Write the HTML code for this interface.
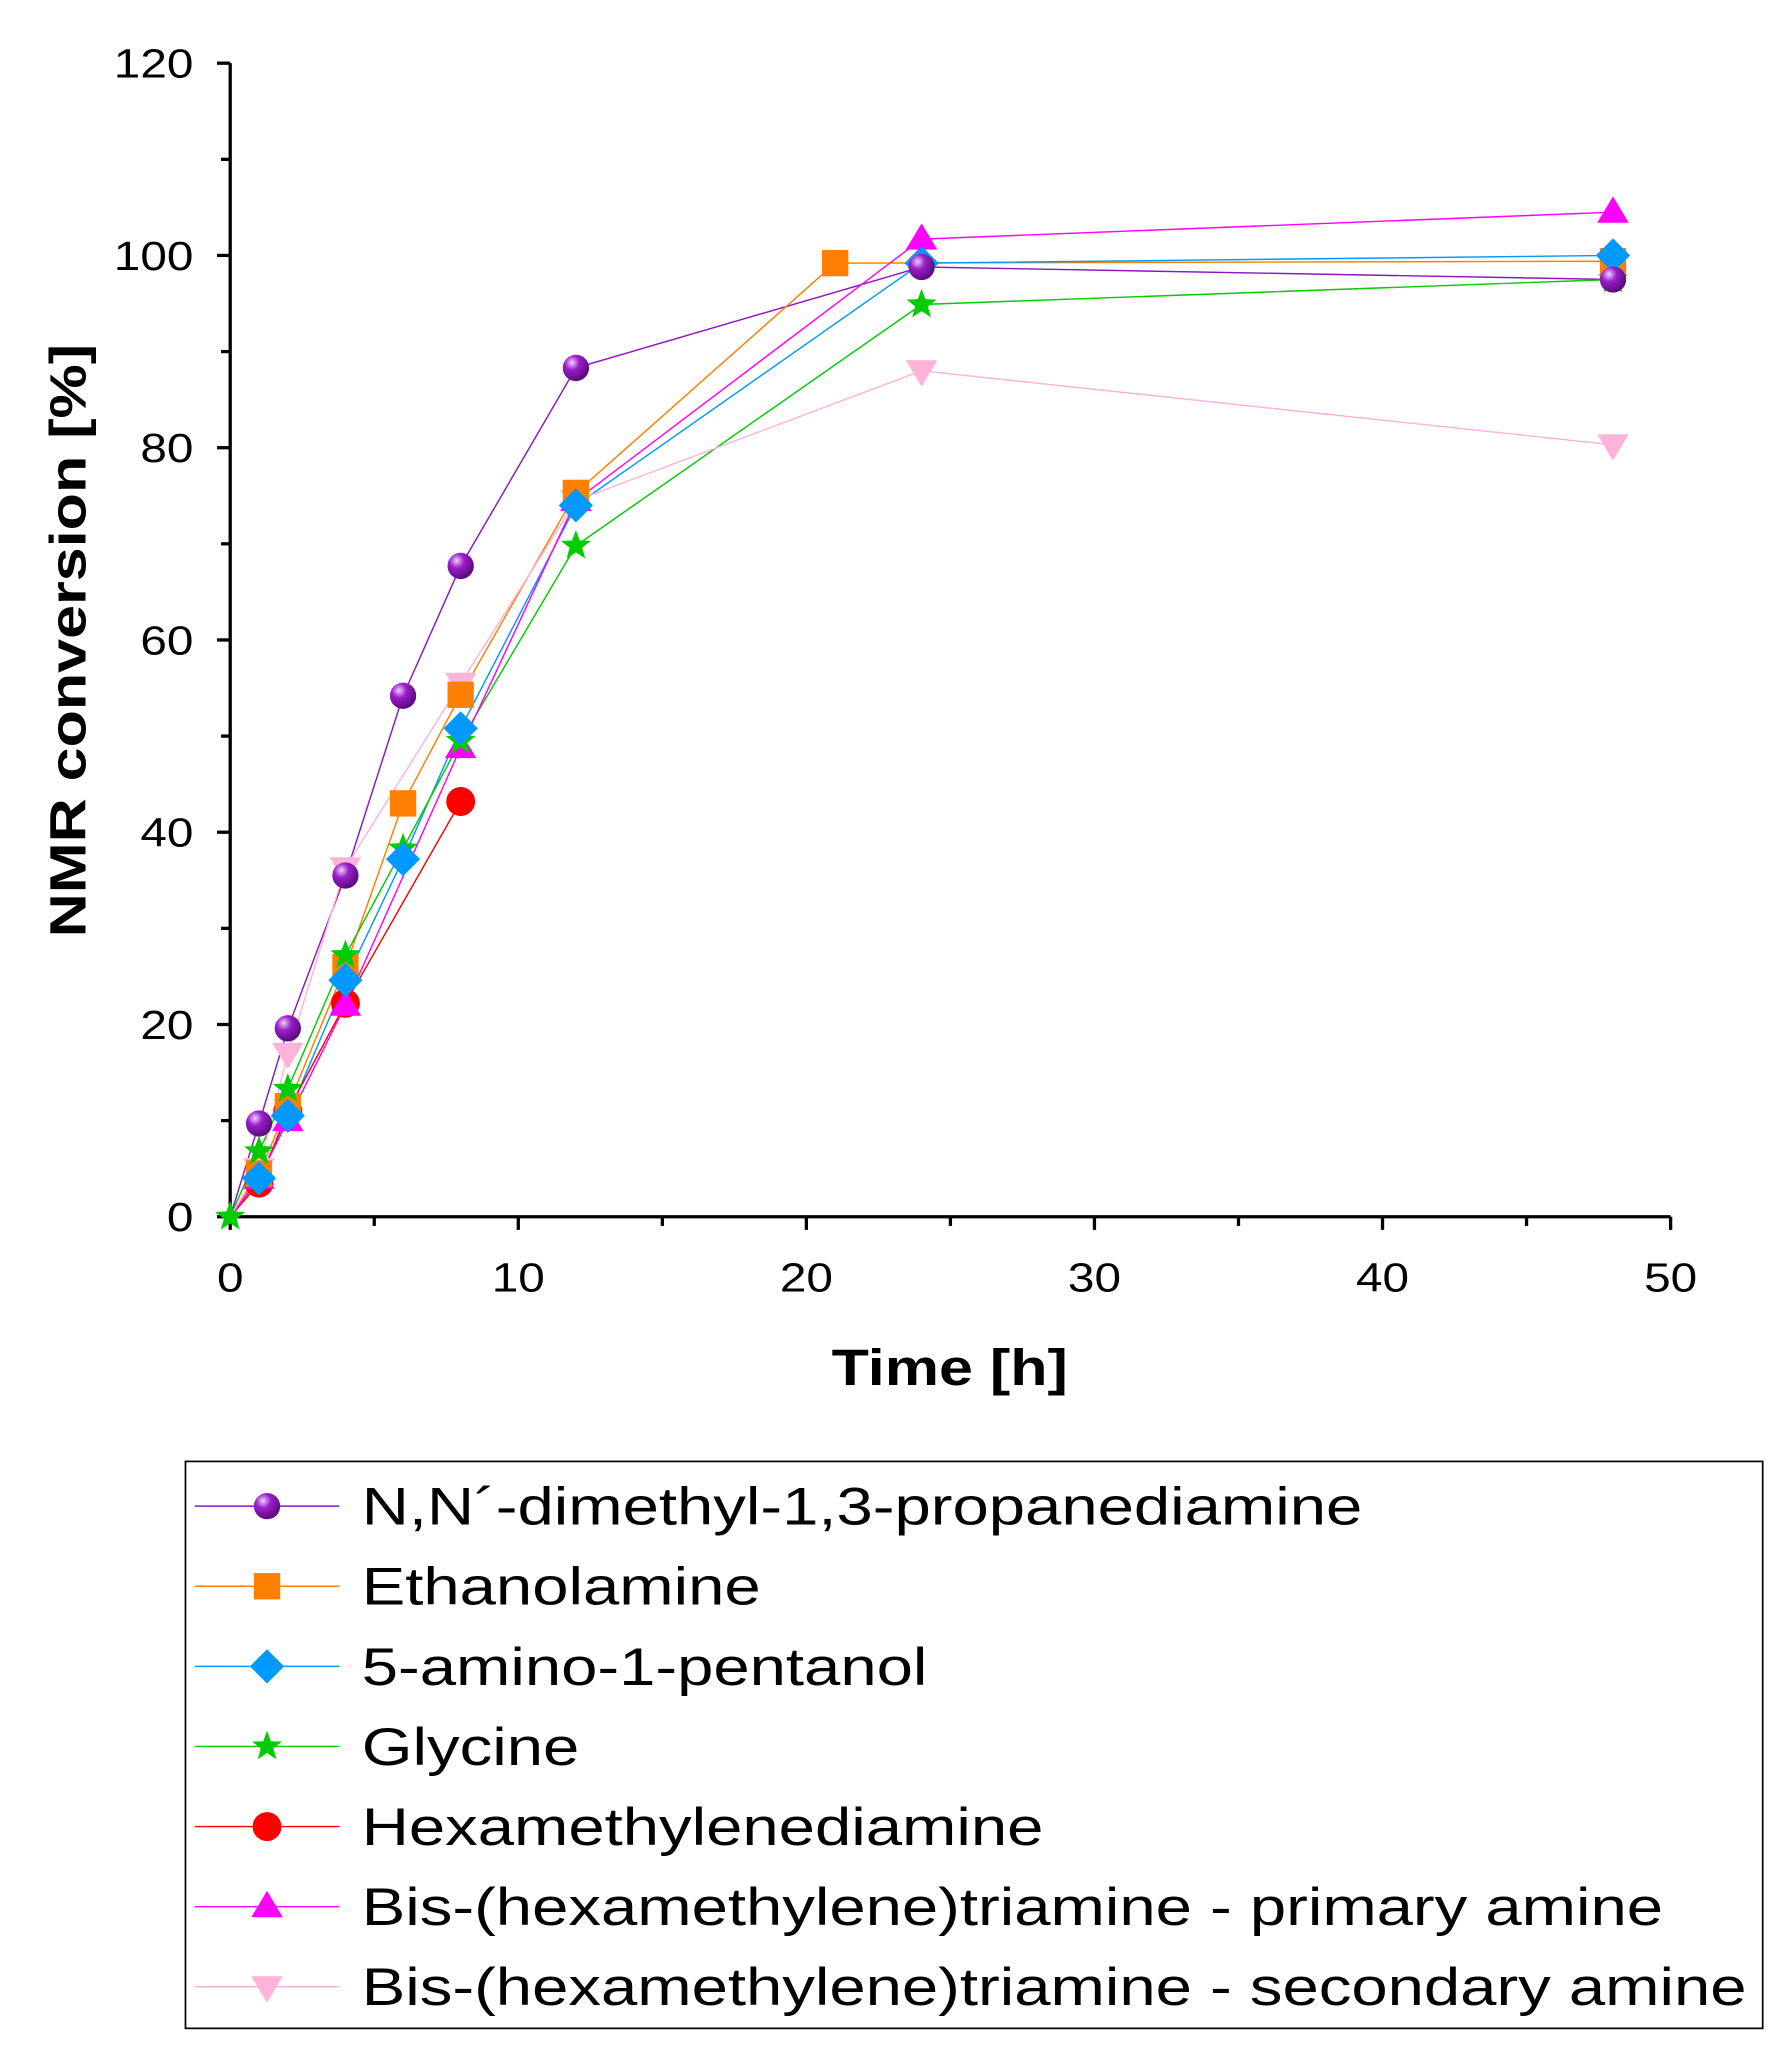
<!DOCTYPE html>
<html><head><meta charset="utf-8"><style>html,body{margin:0;padding:0;background:#fff}svg{display:block}</style></head>
<body>
<svg id="s" width="1789" height="2064" viewBox="0 0 1360 1569.1" preserveAspectRatio="none" xmlns="http://www.w3.org/2000/svg" font-family="Liberation Sans, sans-serif">
<g id="ax" stroke="#000" stroke-width="2.5" fill="none"></g>
<g id="tl" font-size="31" fill="#000"></g>
<text transform="translate(722,1053) scale(1.19,1)" font-size="39" font-weight="bold" text-anchor="middle">Time [h]</text>
<text transform="translate(65,487) rotate(-90) scale(1.19,1)" font-size="39" font-weight="bold" text-anchor="middle">NMR conversion [%]</text>
<g id="data"></g>
<rect x="141" y="1111" width="1199" height="431" fill="none" stroke="#000" stroke-width="1.3"/>
<g id="leg" font-size="40"></g>
<defs><radialGradient id="sph" cx="35%" cy="30%" r="70%"><stop offset="0" stop-color="#f0d0ff"/><stop offset="0.4" stop-color="#9b1fc9"/><stop offset="1" stop-color="#5a0b80"/></radialGradient></defs>
</svg>
<script>
var NS="http://www.w3.org/2000/svg";
function el(p,t,a,txt){var e=document.createElementNS(NS,t);for(var k in a)e.setAttribute(k,a[k]);if(txt!=null)e.textContent=txt;document.getElementById(p).appendChild(e);return e;}
function X(v){return 175+v*21.9;}function Y(v){return 925-v*7.308;}
el("ax","path",{d:"M175,48 V925 H1270"});
for(var v=0;v<=120;v+=10){var L=v%20==0?10:7;el("ax","path",{d:"M"+(175-L)+","+Y(v)+" H175"});if(v%20==0)el("tl","text",{transform:"translate(147,"+(Y(v)+11)+") scale(1.17,1)","text-anchor":"end"},v);}
for(var v=0;v<=50;v+=5){var L=v%10==0?10:7;el("ax","path",{d:"M"+X(v)+",925 V"+(925+L)});if(v%10==0)el("tl","text",{transform:"translate("+X(v)+",982) scale(1.17,1)","text-anchor":"middle"},v);}
var S=[
{c:"#8a17c0",m:"sph",d:[[0,0],[1,9.7],[2,19.6],[4,35.5],[6,54.2],[8,67.7],[12,88.3],[24,98.8],[48,97.5]],n:"N,N\u00b4-dimethyl-1,3-propanediamine"},
{c:"#ff7f00",m:"sq",d:[[0,0],[1,4.5],[2,11.5],[4,26],[6,43],[8,54.3],[12,75.3],[21,99.2],[48,99.4]],n:"Ethanolamine"},
{c:"#0099ff",m:"dia",d:[[0,0],[1,4],[2,10.5],[4,24.6],[6,37.2],[8,50.8],[12,74],[24,99.2],[48,100]],n:"5-amino-1-pentanol"},
{c:"#00cc00",m:"star",d:[[0,0],[1,6.8],[2,13.3],[4,27.2],[6,38.3],[8,49.5],[12,69.8],[24,94.9],[48,97.5]],n:"Glycine"},
{c:"#ff0000",m:"circ",d:[[0,0],[1,3.5],[2,11],[4,22.2],[8,43.2]],n:"Hexamethylenediamine"},
{c:"#ff00ff",m:"tri",d:[[0,0],[1,4],[2,10],[4,22],[8,48.8],[12,74.5],[24,101.7],[48,104.5]],n:"Bis-(hexamethylene)triamine - primary amine"},
{c:"#ffb3d9",m:"itri",d:[[0,0],[1,5],[2,17],[4,36.3],[8,55.5],[12,74.5],[24,88],[48,80.3]],n:"Bis-(hexamethylene)triamine - secondary amine"}];
function mk(p,m,c,x,y){
 if(m=="sph")el(p,"circle",{cx:x,cy:y,r:10,fill:"url(#sph)"});
 else if(m=="sq")el(p,"rect",{x:x-10,y:y-10,width:20,height:20,fill:c});
 else if(m=="dia")el(p,"path",{d:"M"+x+","+(y-13)+"l13,13l-13,13l-13,-13z",fill:c});
 else if(m=="circ")el(p,"circle",{cx:x,cy:y,r:11,fill:c});
 else if(m=="tri")el(p,"path",{d:"M"+x+","+(y-12)+"l12,20h-24z",fill:c});
 else if(m=="itri")el(p,"path",{d:"M"+x+","+(y+12)+"l12,-20h-24z",fill:c});
 else if(m=="star"){var d="";for(var i=0;i<10;i++){var r=i%2?5:12,a=-Math.PI/2+i*Math.PI/5;d+=(i?"L":"M")+(x+r*Math.cos(a)).toFixed(1)+","+(y+r*Math.sin(a)).toFixed(1);}el(p,"path",{d:d+"z",fill:c});}
}
var order=[6,4,5,1,3,2,0];
S.forEach(function(s){el("data","polyline",{points:s.d.map(function(p){return X(p[0])+","+Y(p[1]);}).join(" "),fill:"none",stroke:s.c,"stroke-width":1.1});});
order.forEach(function(i){var s=S[i];s.d.forEach(function(p,j){if(j==0&&i!=3)return;mk("data",s.m,s.c,X(p[0]),Y(p[1]));});});
S.forEach(function(s,i){var y=1145+i*60.9;el("leg","path",{d:"M148,"+y+"H258",stroke:s.c,"stroke-width":1.1});mk("leg",s.m,s.c,203,y);el("leg","text",{transform:"translate(275,"+(y+14)+") scale(1.24,1)"},s.n);});
</script>
</body></html>
